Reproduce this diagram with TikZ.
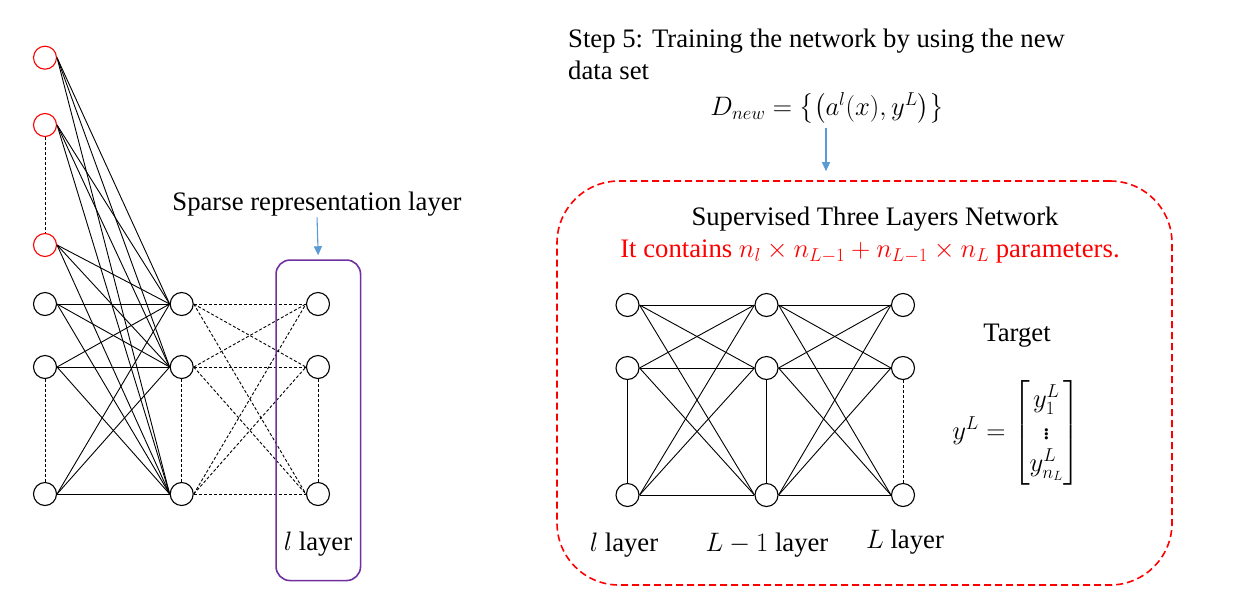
\RequirePackage{fix-cm}
\documentclass[tikz,border=0pt]{standalone}
\usepackage{amsmath}
\usepackage{fontspec}
\setmainfont{Liberation Serif}
\usetikzlibrary{arrows.meta}
\definecolor{myblue}{RGB}{91,155,213}
\definecolor{mypurple}{RGB}{112,48,160}
\begin{document}
\begin{tikzpicture}[x=1pt,y=-1pt,
  neuron/.style={circle,draw=black,line width=1.1pt,minimum size=23pt,inner sep=0pt,fill=white},
  redneuron/.style={neuron,draw=red},
  conn/.style={line width=0.9pt},
  dconn/.style={line width=0.9pt,dash pattern=on 3pt off 2pt},
  txt/.style={font=\fontsize{26.7}{32}\selectfont,inner sep=0pt},
  bluearrow/.style={draw=myblue,line width=1.1pt,-{Triangle[length=9pt,width=8pt,fill=myblue]}}
]
\useasboundingbox (0,0) rectangle (1244,606);

% ---------------- left network ----------------
\node[redneuron] (r1) at (45,57.7) {};
\node[redneuron] (r2) at (45,125) {};
\node[redneuron] (r3) at (45,245) {};
\node[neuron] (i1) at (45,304) {};
\node[neuron] (i2) at (45,367) {};
\node[neuron] (i3) at (45,494) {};
\node[neuron] (h1) at (181.7,304) {};
\node[neuron] (h2) at (181.7,367) {};
\node[neuron] (h3) at (181.7,494) {};
\node[neuron] (s1) at (318,304) {};
\node[neuron] (s2) at (318,367) {};
\node[neuron] (s3) at (318,494) {};

\foreach \a in {r1,r2,r3,i1,i2,i3}
  \foreach \b in {h1,h2,h3}
    \draw[conn] (\a.east) -- (\b.west);
\foreach \a in {h1,h2,h3}
  \foreach \b in {s1,s2,s3}
    \draw[dconn] (\a.east) -- (\b.west);
\draw[dconn] (r2.south) -- (r3.north);
\draw[dconn] (i2.south) -- (i3.north);
\draw[dconn] (h2.south) -- (h3.north);
\draw[dconn] (s2.south) -- (s3.north);

\node[draw=mypurple,line width=1.6pt,rounded corners=14pt,minimum width=84.5pt,minimum height=320.5pt,inner sep=0pt] (pbox) at (318.3,420.3) {};
\node[txt,anchor=base] (sparse) at (317,210.5) {Sparse representation layer};
\draw[bluearrow,shorten >=4pt,shorten <=1pt] (sparse.south) -- (pbox.north);
\node[txt,anchor=base] (llab1) at (318,550) {$l$ layer};

% ---------------- right part ----------------
\node[txt,anchor=base west] (step1) at (568,47) {Step 5: Training the network by using the new};
\node[txt,anchor=base west] (step2) at (568,79) {data set};
\node[txt,anchor=base] (dnew) at (827,115) {$D_{new}=\bigl\{\bigl(a^{l}(x),y^{L}\bigr)\bigr\}$};

\node[draw=red,line width=1.6pt,dash pattern=on 7pt off 4pt,rounded corners=62pt,minimum width=615pt,minimum height=404pt,inner sep=0pt] (rbox) at (864.5,383) {};
\draw[bluearrow,shorten >=9pt,shorten <=3pt] (dnew.south -| 826,0) -- (rbox.north -| 826,0);

\node[txt,anchor=base] (sup) at (875,225) {Supervised Three Layers Network};
\node[txt,anchor=base,text=red] (param) at (870,257) {It contains $n_l\times n_{L-1}+n_{L-1}\times n_L$ parameters.};

\node[neuron] (a1) at (627.5,305) {};
\node[neuron] (a2) at (627.5,368) {};
\node[neuron] (a3) at (627.5,495) {};
\node[neuron] (b1) at (766.5,305) {};
\node[neuron] (b2) at (766.5,368) {};
\node[neuron] (b3) at (766.5,495) {};
\node[neuron] (c1) at (903,305) {};
\node[neuron] (c2) at (903,368) {};
\node[neuron] (c3) at (903,495) {};
\foreach \a in {a1,a2,a3}
  \foreach \b in {b1,b2,b3}
    \draw[conn] (\a.east) -- (\b.west);
\foreach \a in {b1,b2,b3}
  \foreach \b in {c1,c2,c3}
    \draw[conn] (\a.east) -- (\b.west);
\draw[conn] (a2.south) -- (a3.north);
\draw[conn] (b2.south) -- (b3.north);
\draw[dconn] (c2.south) -- (c3.north);

\node[txt,anchor=base] (lab1) at (624,551) {$l$ layer};
\node[txt,anchor=base] (lab2) at (767,551) {$L-1$ layer};
\node[txt,anchor=base] (lab3) at (905,548) {$L$ layer};

\node[txt,anchor=base] (target) at (1017,341) {Target};
\node[txt] (yvec) at (1016,433) {$y^{L}=\begin{bmatrix} y_1^{L}\\ \vdots\\ y_{n_L}^{L}\end{bmatrix}$};
\end{tikzpicture}
\end{document}
